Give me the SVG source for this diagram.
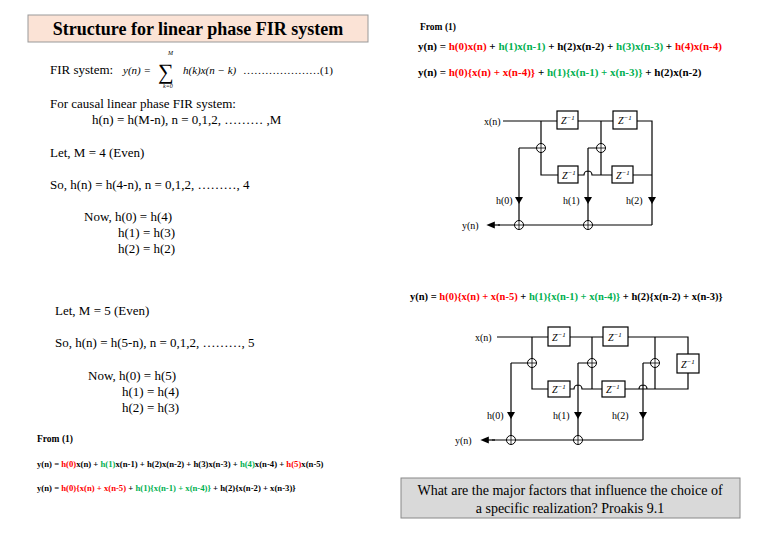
<svg xmlns="http://www.w3.org/2000/svg" width="768" height="543" viewBox="0 0 768 543">
<defs>
<style>
text{font-family:"Liberation Serif",serif;fill:#000}
.t{font-size:13px}
.e{font-size:9.5px;font-weight:bold}
.r{fill:#ff0000}
.g{fill:#00b050}
.w{fill:none;stroke:#000;stroke-width:1.2}
.box{fill:#fff;stroke:#000;stroke-width:1.2}
.add{fill:#fff;stroke:#000;stroke-width:1}
.z{font-size:10px;font-style:italic}
.s{font-size:7px}
.l{font-size:10px}
</style>
<marker id="ah" markerWidth="8" markerHeight="8" refX="4" refY="4" orient="auto"><path d="M0,1 L7,4 L0,7 Z" fill="#000"/></marker>
<g id="adder"><circle r="4.5" class="add"/><path d="M-4.5,0H4.5M0,-4.5V4.5" stroke="#000" stroke-width="0.8"/></g>
<path id="tri" d="M-4,-3 L4,-3 L0,4 Z" fill="#000"/>
</defs>
<rect width="768" height="543" fill="#fff"/>

<g id="title"><rect x="28" y="15" width="340" height="27" fill="#fbe3d6" stroke="#999"/>
<text x="198" y="35" text-anchor="middle" font-size="18" font-weight="bold">Structure for linear phase FIR system</text></g>

<g id="left-text">
<text x="50" y="74" class="t">FIR system:</text>
<text x="123" y="74" font-size="11" font-style="italic">y(n) =</text>
<text x="158" y="79" font-size="22">∑</text>
<text x="168" y="55" font-size="6" font-style="italic">M</text>
<text x="163" y="88" font-size="6" font-style="italic">k=0</text>
<text x="183" y="74" font-size="11" font-style="italic">h(k)x(n − k)</text>
<text x="243" y="74" font-size="11">…………………(1)</text>
<text x="50" y="108" class="t">For causal linear phase FIR system:</text>
<text x="92" y="124" class="t">h(n) = h(M-n), n = 0,1,2, ……… ,M</text>
<text x="50" y="157" class="t">Let, M = 4 (Even)</text>
<text x="50" y="189" class="t">So, h(n) = h(4-n), n = 0,1,2, ………, 4</text>
<text x="84" y="221" class="t">Now,  h(0) = h(4)</text>
<text x="118" y="237" class="t">h(1) = h(3)</text>
<text x="118" y="253" class="t">h(2) = h(2)</text>
<text x="55" y="315" class="t">Let, M = 5 (Even)</text>
<text x="55" y="347" class="t">So, h(n) = h(5-n), n = 0,1,2, ………, 5</text>
<text x="88" y="380" class="t">Now,  h(0) = h(5)</text>
<text x="122" y="396" class="t">h(1) = h(4)</text>
<text x="122" y="412" class="t">h(2) = h(3)</text>
<text x="37" y="442" class="e">From (1)</text>
<text x="37" y="467" class="e" style="font-size:8.7px">y(n)  =  <tspan class="r">h(0)</tspan>x(n) + <tspan class="g">h(1)</tspan>x(n-1) + h(2)x(n-2) + h(3)x(n-3) + <tspan class="g">h(4)</tspan>x(n-4) + <tspan class="r">h(5)</tspan>x(n-5)</text>
<text x="37" y="491" class="e" style="font-size:8.7px">y(n)  =  <tspan class="r">h(0){x(n) + x(n-5)</tspan> + <tspan class="g">h(1){x(n-1) + x(n-4)}</tspan> + h(2){x(n-2) + x(n-3)}</text>
</g>

<g id="right-text">
<text x="420" y="30" class="e">From (1)</text>
<text x="418" y="50" class="e" style="font-size:11px">y(n) = <tspan class="r">h(0)x(n)</tspan> + <tspan class="g">h(1)x(n-1)</tspan> + h(2)x(n-2) + <tspan class="g">h(3)x(n-3)</tspan> + <tspan class="r">h(4)x(n-4)</tspan></text>
<text x="418" y="76" class="e" style="font-size:11px">y(n) = <tspan class="r">h(0){x(n) + x(n-4)}</tspan> + <tspan class="g">h(1){x(n-1) + x(n-3)}</tspan> + h(2)x(n-2)</text>
<text x="410" y="300" class="e" style="font-size:10.5px">y(n)  =  <tspan class="r">h(0){x(n) + x(n-5)</tspan> + <tspan class="g">h(1){x(n-1) + x(n-4)}</tspan> + h(2){x(n-2) + x(n-3)}</text>
</g>

<g id="connectors">
<path class="w" d="M503,121H557 M578,121H613 M637,121H652V225 M541,121V175H558 M578,175H584 A4,4 0 0 1 592,175 H612 M633,175H652 M601,121V175 M519,148H536.5 M519,148V225 M588,148H596.5 M588,148V225 M652,225H498"/>
<path class="w" d="M500,225H490" marker-end="url(#ah)"/>
<path class="w" d="M497,337H548 M570,337H603 M628,337H688V354 M688,373V389H625 M570,389H574 A4,4 0 0 1 582,389 H602 M625,389H639 A4,4 0 0 1 647,389 M532,337V389H548 M592,337V389 M655,337V389 M511,363H527.5 M511,363V440 M578,363H587.5 M578,363V440 M643,363V440 M643,363H650.5 M643,440H492"/>
<path class="w" d="M495,440H484" marker-end="url(#ah)"/>
</g>

<g id="diagram1">
<text x="484" y="125" class="l">x(n)</text>
<rect x="557" y="111" width="21" height="18" class="box"/><text x="561" y="124" class="z">Z<tspan class="s" dy="-4">−1</tspan></text>
<rect x="613" y="111" width="24" height="18" class="box"/><text x="618" y="124" class="z">Z<tspan class="s" dy="-4">−1</tspan></text>
<rect x="558" y="166" width="20" height="17" class="box"/><text x="562" y="179" class="z">Z<tspan class="s" dy="-4">−1</tspan></text>
<rect x="612" y="166" width="21" height="17" class="box"/><text x="616" y="179" class="z">Z<tspan class="s" dy="-4">−1</tspan></text>
<use href="#adder" x="541" y="148"/><use href="#adder" x="601" y="148"/>
<use href="#adder" x="519" y="225"/><use href="#adder" x="588" y="225"/>
<use href="#tri" x="519" y="200"/><use href="#tri" x="588" y="200"/><use href="#tri" x="652" y="200"/>
<text x="496" y="204" class="l">h(0)</text><text x="563" y="204" class="l">h(1)</text><text x="626" y="204" class="l">h(2)</text>
<text x="462" y="229" class="l">y(n)</text>
</g>

<g id="diagram2">
<text x="475" y="341" class="l">x(n)</text>
<rect x="548" y="327" width="22" height="19" class="box"/><text x="552" y="341" class="z">Z<tspan class="s" dy="-4">−1</tspan></text>
<rect x="603" y="327" width="25" height="19" class="box"/><text x="608" y="341" class="z">Z<tspan class="s" dy="-4">−1</tspan></text>
<rect x="677" y="354" width="22" height="19" class="box" stroke-width="2"/><text x="681" y="368" class="z">Z<tspan class="s" dy="-4">−1</tspan></text>
<rect x="548" y="381" width="22" height="16" class="box"/><text x="552" y="393" class="z">Z<tspan class="s" dy="-4">−1</tspan></text>
<rect x="602" y="381" width="23" height="16" class="box"/><text x="606" y="393" class="z">Z<tspan class="s" dy="-4">−1</tspan></text>
<use href="#adder" x="532" y="363"/><use href="#adder" x="592" y="363"/><use href="#adder" x="655" y="363"/>
<use href="#adder" x="511" y="440"/><use href="#adder" x="578" y="440"/>
<use href="#tri" x="511" y="415"/><use href="#tri" x="578" y="415"/><use href="#tri" x="643" y="415"/>
<text x="487" y="419" class="l">h(0)</text><text x="553" y="419" class="l">h(1)</text><text x="612" y="419" class="l">h(2)</text>
<text x="455" y="444" class="l">y(n)</text>
</g>

<g id="question"><rect x="401" y="478" width="339" height="40" fill="#d9d9d9" stroke="#888"/>
<text x="570" y="495" text-anchor="middle" font-size="14">What are the major factors that influence the choice of</text>
<text x="570" y="513" text-anchor="middle" font-size="14">a specific realization? Proakis 9.1</text></g>
</svg>
